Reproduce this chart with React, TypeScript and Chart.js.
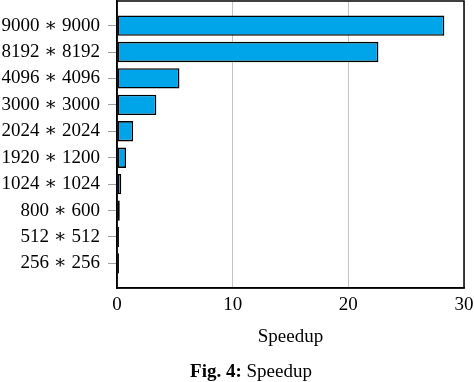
import React, { useEffect, useRef } from "react";
import { Chart, registerables } from "chart.js";

Chart.register(...registerables);

const categories = [
  "9000 ∗ 9000",
  "8192 ∗ 8192",
  "4096 ∗ 4096",
  "3000 ∗ 3000",
  "2024 ∗ 2024",
  "1920 ∗ 1200",
  "1024 ∗ 1024",
  "800 ∗ 600",
  "512 ∗ 512",
  "256 ∗ 256",
];
const speedup = [28.3, 22.6, 5.4, 3.4, 1.4, 0.78, 0.37, 0.24, 0.17, 0.17];
const xTicks = [0, 10, 20, 30];
const xTitle = "Speedup";
const captionBold = "Fig. 4:";
const captionText = " Speedup";

const FONT = "'Liberation Serif', 'DejaVu Serif', serif";

export default function App() {
  const ref = useRef<HTMLCanvasElement | null>(null);

  useEffect(() => {
    if (!ref.current) return;
    const framePlugin = {
      id: "frameAndCaption",
      afterDraw(chart: any) {
        const { ctx, chartArea } = chart;
        ctx.save();
        ctx.strokeStyle = "#000";
        ctx.lineWidth = 1.5;
        ctx.strokeRect(
          chartArea.left,
          chartArea.top,
          chartArea.right - chartArea.left,
          chartArea.bottom - chartArea.top
        );
        ctx.fillStyle = "#000";
        ctx.textBaseline = "alphabetic";
        ctx.font = `bold 19px ${FONT}`;
        const wb = ctx.measureText(captionBold).width;
        ctx.font = `19px ${FONT}`;
        const wn = ctx.measureText(captionText).width;
        const x0 = 251 - (wb + wn) / 2;
        const y0 = 377;
        ctx.font = `bold 19px ${FONT}`;
        ctx.fillText(captionBold, x0, y0);
        ctx.font = `19px ${FONT}`;
        ctx.fillText(captionText, x0 + wb, y0);
        ctx.restore();
      },
    };

    const chart = new Chart(ref.current, {
      type: "bar",
      data: {
        datasets: [
          {
            data: speedup.map((v, i) => ({ x: v, y: i + 1 })),
            backgroundColor: "rgb(0,164,232)",
            borderColor: "#000",
            borderWidth: 1.6,
            borderSkipped: false,
            barPercentage: 0.77,
            categoryPercentage: 1,
          },
        ],
      },
      options: {
        indexAxis: "y",
        animation: false,
        responsive: true,
        maintainAspectRatio: false,
        layout: { padding: { top: 1, right: 10, left: 0, bottom: 0 } },
        plugins: {
          legend: { display: false },
          tooltip: { enabled: false },
        },
        scales: {
          y: {
            type: "linear",
            reverse: true,
            offset: false,
            min: 0.07,
            max: 10.93,
            afterFit: (scale: any) => {
              scale.width = 117;
              scale.paddingTop = 0;
              scale.paddingBottom = 0;
              scale.paddingLeft = 0;
              scale.paddingRight = 0;
            },
            afterBuildTicks: (scale: any) => {
              scale.ticks = categories.map((_, i) => ({ value: i + 1 }));
            },
            ticks: {
              callback: (v: any) => categories[Number(v) - 1] ?? "",
              color: "#000",
              padding: 8,
              font: { family: FONT, size: 19 },
            },
            grid: {
              offset: false,
              drawOnChartArea: false,
              drawTicks: true,
              tickLength: 9,
              color: "#a0a0a0",
            },
            border: { display: true, color: "#000", width: 1.5 },
          },
          x: {
            type: "linear",
            min: 0,
            max: 30,
            afterFit: (scale: any) => {
              scale.height = 94;
              scale.paddingTop = 0;
              scale.paddingBottom = 0;
              scale.paddingLeft = 0;
              scale.paddingRight = 0;
            },
            afterBuildTicks: (scale: any) => {
              scale.ticks = xTicks.map((v) => ({ value: v }));
            },
            ticks: {
              color: "#000",
              padding: 6,
              maxRotation: 0,
              font: { family: FONT, size: 19 },
            },
            grid: {
              drawTicks: false,
              color: "#c4c4c4",
              lineWidth: 1,
            },
            border: { display: true, color: "#000", width: 1.5 },
            title: {
              display: true,
              text: xTitle,
              color: "#000",
              font: { family: FONT, size: 19 },
              padding: { top: 0, bottom: 34 },
            },
          },
        },
      },
      plugins: [framePlugin],
    });
    return () => chart.destroy();
  }, []);

  return (
    <div style={{ position: "absolute", left: 0, top: 0, width: 474, height: 382, background: "#fff" }}>
      <canvas ref={ref} />
    </div>
  );
}
